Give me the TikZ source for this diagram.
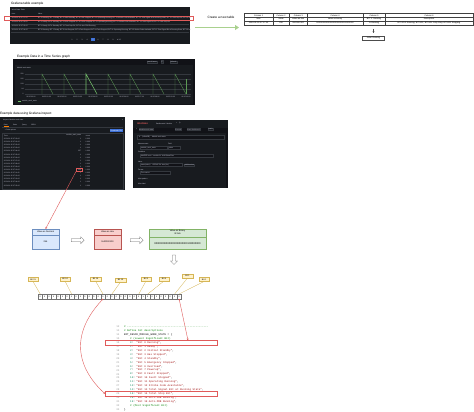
\documentclass[tikz,border=0pt]{standalone}
\usepackage{fontspec}
\setmainfont{Liberation Sans}
\setmonofont{Liberation Mono}
\usetikzlibrary{shapes.arrows,arrows.meta,calc}
\newcommand{\myfs}[1]{\fontsize{#1}{#1}\selectfont}
\newcommand{\cstr}[1]{\textcolor{codestr}{#1}}
\newcommand{\cnum}[1]{\textcolor{codenum}{#1}}
\newcommand{\ccom}[1]{\textcolor{codegreen}{#1}}
\definecolor{dkbg}{HTML}{181B1F}
\definecolor{dkpanel}{HTML}{111217}
\definecolor{scrtxt}{HTML}{CCCCDC}
\definecolor{scrline}{HTML}{34383E}
\definecolor{gfgreen}{HTML}{73BF69}
\definecolor{gfblue}{HTML}{3D71D9}
\definecolor{rd}{HTML}{E05A5A}
\definecolor{blfill}{HTML}{DAE8FC}\definecolor{bldraw}{HTML}{6C8EBF}
\definecolor{rdfill}{HTML}{F8CECC}\definecolor{rddraw}{HTML}{B85450}
\definecolor{grfill}{HTML}{D5E8D4}\definecolor{grdraw}{HTML}{82B366}
\definecolor{ylfill}{HTML}{FFF2CC}\definecolor{yldraw}{HTML}{D6B656}
\definecolor{arrgreen}{HTML}{A9D18E}
\definecolor{codegreen}{HTML}{008000}
\definecolor{codestr}{HTML}{A31515}
\definecolor{codenum}{HTML}{098658}
\definecolor{lnum}{HTML}{9A9A9A}
\tikzset{
  every node/.style={inner sep=0pt, outer sep=0pt},
  ttl/.style={font=\myfs{3.2}, anchor=west},
  scr/.style={font=\myfs{1.7}, text=scrtxt, anchor=west},
  scrr/.style={scr, anchor=east},
  scrc/.style={scr, anchor=center},
  tcell/.style={draw=black!75, line width=0.25pt, font=\myfs{2.1}, minimum height=3.8pt, anchor=north west},
  fbox/.style={draw=scrline, fill=dkpanel, line width=0.25pt},
  vbox/.style={line width=0.35pt, anchor=north west},
  btxt/.style={font=\myfs{2.2}},
  hollow/.style={single arrow, draw=black!60, fill=white, line width=0.3pt, inner sep=1.3pt, single arrow head extend=2pt, minimum height=13pt},
  bitlbl/.style={draw=yldraw, fill=ylfill, line width=0.3pt, font=\myfs{2.1}, minimum width=10.5pt, minimum height=4pt},
  bitcell/.style={draw=black!55, fill=white, line width=0.25pt, font=\myfs{2}, minimum width=4.48pt, minimum height=5pt},
  bitline/.style={draw=yldraw, line width=0.3pt},
  redln/.style={draw=rd, line width=0.4pt},
  code/.style={font=\ttfamily\myfs{2.6}, anchor=west},
  lno/.style={font=\ttfamily\myfs{2.6}, text=lnum, anchor=east},
  hlbox/.style={draw=rd, line width=0.35pt, minimum width=112pt, minimum height=4.6pt},
}
\begin{document}
\begin{tikzpicture}[x=1pt,y=-1pt]
\useasboundingbox[fill=white] (0,0) rectangle (474,412);

% ---------------- titles
\node[ttl] (t1) at (11,3.3) {Grafana table example};
\node[ttl] (t2) at (17,56.5) {Example Data in a Time Series graph};
\node[ttl] (t3) at (0,113.8) {Example data using Grafana inspect};

% ---------------- screenshot 1: grafana table
\begin{scope}
\clip (10,7) rectangle (190,44);
\fill[dkbg] (10,7) rectangle (190,44);
\node[scr] (s1title) at (12,10) {Work State Table};
\node[scr] (s1h1) at (12,14) {time};
\node[scr] (s1h2) at (38,14) {Value};
\foreach \yy in {16,20,24,28,32} \draw[scrline, line width=0.2pt] (11,\yy) -- (189,\yy);
\node[scr] (s1r1a) at (12,18.1) {2024-01-15 07:17:00};
\node[scr] (s1r1b) at (38,18.1) {BIT 0 Running, BIT 1 Ready, BIT 2 Initial Standby, BIT 8 Fault Stopped, BIT 11 Operating Running, BIT 12 Strobe Code Available, BIT 13 Total Signal Bit at Running State, BIT 16 Total Stop Bit, BIT 18 Anti-PDB};
\node[scr] (s1r2a) at (12,22) {2024-01-15 07:16:00};
\node[scr] (s1r2b) at (38,22) {BIT 1 Ready, BIT 4 Standby, BIT 8 Fault Stopped, BIT 10 Fault Stopped, BIT 11 Operating Running, BIT 12 Strobe Code Available, BIT 13 Total Signal Bit, BIT 16 Total Stop Bit};
\node[scr] (s1r3a) at (12,26) {2024-01-15 07:15:00};
\node[scr] (s1r3b) at (38,26) {BIT 1 Ready, BIT 4 Standby, BIT 16 Total Stop Bit, BIT 18 Anti-PDB Running};
\node[scr] (s1r4a) at (12,30) {2024-01-15 07:14:00};
\node[scr] (s1r4b) at (38,30) {BIT 0 Running, BIT 1 Ready, BIT 3 Has Stopped, BIT 8 Fault Stopped, BIT 10 Fault Stopped, BIT 11 Operating Running, BIT 12 Strobe Code Available, BIT 13 Total Signal Bit at Running State, BIT 19 Anti-PDB Running};
\fill[gfblue] (91.3,38) rectangle (94.7,41);
\foreach \k/\xx in {1/72,2/77,3/82,4/87,5/93,6/98,7/103,8/108,9/113} \node[scrc] (pg\k) at (\xx,39.5) {\k};
\node[scr] (pgof) at (117,39.5) {of 12};
\end{scope}
\draw[rd, line width=0.35pt] (4,16.3) rectangle (193,19.9);

% ---------------- green arrow and new table
\coordinate (ga1) at (195,27.5);
\coordinate (ga2) at (239,27.5);
\draw[arrgreen, line width=1.6pt, -{Triangle[length=4pt,width=5pt]}] (ga1) -- (ga2);
\node[font=\myfs{3.2}] (ganl) at (221,17) {Create a new table};

\foreach \i/\xx/\w in {1/244.3/28.7, 2/273/16.3, 3/289.3/18, 4/307.3/55.7, 5/363/22, 6/385/88}
  \node[tcell, minimum width=\w pt] (h\i) at (\xx,13.5) {Column \i};
\node[tcell, minimum width=28.7pt] (r21) at (244.3,17.3) {time};
\node[tcell, minimum width=16.3pt] (r22) at (273,17.3) {value};
\node[tcell, minimum width=18pt] (r23) at (289.3,17.3) {value as hex};
\node[tcell, minimum width=55.7pt] (r24) at (307.3,17.3) {value as binary};
\node[tcell, minimum width=22pt] (r25) at (363,17.3) {BIT 2: Running};
\node[tcell, minimum width=88pt] (r26) at (385,17.3) {Description};
\node[tcell, minimum width=28.7pt] (r31) at (244.3,21.1) {2024-01-15 07:17:00};
\node[tcell, minimum width=16.3pt] (r32) at (273,21.1) {256};
\node[tcell, minimum width=18pt] (r33) at (289.3,21.1) {0x00000100};
\node[tcell, minimum width=55.7pt] (r34) at (307.3,21.1) {00000000000000000000000100000000};
\node[tcell, minimum width=22pt] (r35) at (363,21.1) {1=Running};
\node[tcell, minimum width=88pt] (r36) at (385,21.1) {BIT 0/1/2 Running, BIT 8/11, BIT 8/11 Fully Stop, BIT 8/11 Stopping};
\coordinate (ir1) at (373.5,28.8);
\coordinate (ir2) at (373.5,33);
\draw[black!70, line width=0.3pt, -{Stealth[length=1.6pt,width=2pt]}] (ir1) -- (ir2);
\node[draw=black!70, line width=0.3pt, font=\myfs{2.1}, minimum width=22pt, minimum height=4.2pt] (initrun) at (373.5,37.8) {Initial Running};

% ---------------- screenshot 2: time series
\fill[dkpanel] (13,59) rectangle (195,105);
\node[scr, draw=scrline, fill=dkbg, inner sep=0.4pt] (tb1) at (147,61.8) {Last 6 hours};
\node[scr, draw=scrline, fill=dkbg, inner sep=0.4pt] (tb2) at (161,61.8) {Q};
\node[scr, draw=scrline, fill=dkbg, inner sep=0.4pt] (tb3) at (170,61.8) {Refresh};
\fill[dkbg] (15,65) rectangle (193,104);
\node[scr] (gtitle) at (17,67.5) {Module work state};
\foreach \yy/\lab in {74/256,79/192,84/128,89/64,94/0} {
  \draw[scrline, line width=0.2pt] (25,\yy) -- (191,\yy);
  \node[scrr] (yl\lab) at (23.5,\yy) {\lab};
}
\foreach \k/\lab in {0/00:00,1/01:00,2/02:00,3/03:00,4/04:00,5/05:00,6/06:00,7/07:00,8/08:00,9/09:00,10/10:00}
  \node[scrc] (xl\k) at ({31+15.5*\k},97.3) {01/15 \lab};
\draw[gfgreen, line width=0.4pt] (18,101) -- (21,101);
\node[scr] (legend) at (22,101) {module\_work\_state};
\foreach \xx in {42,64,108,130,153,175}
  \draw[gfgreen!80!black, line width=0.35pt] (\xx,94) -- (\xx,74) -- ({\xx+11},94);
\draw[gfgreen, line width=0.55pt] (86,94) -- (86,74) -- (97,94);
\draw[gfgreen!80!black, line width=0.35pt] (186,94) -- (186,79);

% ---------------- screenshot 3: inspect
\fill[dkbg] (0,117) rectangle (125,190);
\node[scr] (insttl) at (3,120.5) {Inspect: Module work state};
\node[scrr] (insx) at (123,120.5) {x};
\node[scr] (tab1) at (4,125) {Data};
\node[scr] (tab2) at (13,125) {Stats};
\node[scr] (tab3) at (22,125) {Query};
\node[scr] (tab4) at (31,125) {JSON};
\draw[orange, line width=0.4pt] (4,126.6) -- (9,126.6);
\draw[scrline, line width=0.25pt] (2,127) -- (123,127);
\node[scr] (dopt) at (5,130.5) {> Data options};
\node[scr, fill=gfblue, inner sep=0.6pt, text=white] (dlcsv) at (110,130.5) {Download CSV};
\draw[scrline, line width=0.25pt] (2,133) rectangle (123,189);
\node[scr] (ih1) at (4,135.5) {Time};
\node[scrr] (ih2) at (81,135.5) {module\_work\_state};
\node[scrr] (ih3) at (90,135.5) {count};
\foreach \k/\v/\c in {0/1/0.000,1/1/0.000,2/1/0.000,3/1/0.000,4/257/1.000,5/1/0.000,6/1/0.000,7/1/0.000,8/1/0.000,9/0/0.000,10/256/1.000,11/1/0.000,12/1/0.000,13/1/0.000,14/1/0.000,15/1/0.000} {
  \node[scr] (it\k) at (4,{139+3.1*\k}) {2024-01-15 07:\ifnum\k<10 0\fi\k:00};
  \node[scrr] (iv\k) at (81,{139+3.1*\k}) {\v};
  \node[scrr] (ic\k) at (90,{139+3.1*\k}) {\c};
}
\node[draw=rd, line width=0.35pt, minimum width=6pt, minimum height=3pt] (insp) at (79,170) {};

% ---------------- screenshot 4: query editor
\fill[dkpanel] (133,120) rectangle (228,188);
\fill[dkbg] (133,120) rectangle (228,127.5);
\node[scr, text=rd, font=\myfs{2.2}\bfseries] (gflogo) at (137,123.5) {GRAFANA};
\node[scr] (qbread) at (156,123.5) {Dashboards / Module};
\node[scr] (qicons) at (176,123.5) {+ \quad Q};
\node[scr] (qback) at (136,129.5) {<};
\node[scr, draw=scrline, fill=dkbg, inner sep=0.4pt] (qf0) at (139,129.5) {Module work state};
\node[scr, draw=scrline, inner sep=0.4pt] (qf1) at (175,129.5) {Discard};
\node[scr, draw=scrline, inner sep=0.4pt] (qf2) at (187,129.5) {Save dashboard};
\node[scr, draw=scrline, inner sep=0.4pt] (qf3) at (208,129.5) {Apply};
\fill[dkbg] (134,132.5) rectangle (226,188);
\draw[fbox] (137,135.5) rectangle (224,139);
\node[scr] (qA) at (139,137.2) {A \quad (InfluxDB) \quad Module work state};
\node[scr] (lmeas) at (138,143.5) {Measurement};
\node[scr] (lfield) at (168,143.5) {Field};
\draw[fbox] (140,146.5) rectangle (167,149.5);
\node[scr] (vmeas) at (141,148) {module\_work\_state};
\draw[fbox] (168,146.5) rectangle (180,149.5);
\node[scr] (vfield) at (169,148) {value};
\node[scr] (lcond) at (138,152.3) {Condition};
\draw[fbox] (140,154.5) rectangle (213,157.5);
\node[scr] (vcond) at (141,156) {WHERE host = 'module-01' AND \$timeFilter};
\node[scr] (lval) at (138,161.5) {Value};
\draw[fbox] (140,163.5) rectangle (182,166.5);
\node[scr] (vval) at (141,165) {mean(value) \quad GROUP BY time(1m)};
\node[scr, draw=scrline, inner sep=0.5pt] (qbtn) at (184,165) {Add function};
\node[scr] (lfmt) at (138,169.5) {Format};
\draw[fbox] (140,171.5) rectangle (170,174.5);
\node[scr] (vfmt) at (141,173) {Time series};
\node[scr] (lalias) at (138,179) {Alias pattern};
\node[scr] (lalab) at (138,184) {Alias label};

% ---------------- value boxes
\node[vbox, fill=blfill, draw=bldraw, minimum width=27pt, minimum height=20.3pt] (dec) at (32,229) {};
\draw[bldraw, line width=0.3pt] (32,235.3) -- (59,235.3);
\node[btxt] (dect) at (45.5,232.2) {Value as Decimal};
\node[btxt] (decv) at (45.5,242) {256};
\node[vbox, fill=rdfill, draw=rddraw, minimum width=27pt, minimum height=20.3pt] (hex) at (94,229) {};
\draw[rddraw, line width=0.3pt] (94,235.3) -- (121,235.3);
\node[btxt] (hext) at (107.5,232.2) {Value as Hex};
\node[btxt] (hexv) at (107.5,242) {0x00000100};
\node[vbox, fill=grfill, draw=grdraw, minimum width=57pt, minimum height=20.3pt] (bin) at (149,229) {};
\draw[grdraw, line width=0.3pt] (149,237.5) -- (206,237.5);
\node[btxt] (bint) at (177.5,231.2) {Value as Binary};
\node[btxt] (bint2) at (177.5,234.2) {32 bits};
\node[font=\myfs{2.6}] (binv) at (177.5,243.3) {00000000000000000000000100000000};
\node[hollow] (ha1) at (77,240.2) {};
\node[hollow] (ha2) at (136,240.2) {};
\node[hollow, rotate=-90, minimum height=9.5pt] (ha3) at (174,259) {};

\draw[redln, -{Stealth[length=2pt,width=1.8pt]}] (insp.south west) -- (dec.north);

% ---------------- bit row
\foreach \i in {0,...,31}
  \node[bitcell] (c\i) at ({40.24+4.48*\i},296.5) {\ifnum\i=23 1\else 0\fi};
\node[bitlbl] (b31) at (33,279.5) {Bit 31};
\node[bitlbl] (b24) at (65,279) {Bit 24};
\node[bitlbl] (b16) at (95.5,279) {Bit 16};
\node[bitlbl] (b15) at (120.5,280) {Bit 15};
\node[bitlbl] (b9) at (146,279) {Bit 9};
\node[bitlbl] (b8) at (164,279) {Bit 8};
\node[bitlbl] (b1) at (187.5,276) {Bit 1};
\node[bitlbl] (b0) at (204,279.5) {Bit 0};
\draw[bitline] (b31.south) -- (c0.north);
\draw[bitline] (b24.south) -- (c7.north);
\draw[bitline] (b16.south) -- (c14.north);
\draw[bitline] (b15.south) -- (c16.north);
\draw[bitline] (b9.south) -- (c22.north);
\draw[bitline] (b8.south) -- (c24.north);
\draw[bitline] (b1.south) -- (c30.north);
\draw[bitline] (b0.south) -- (c31.north);

% ---------------- code
\foreach \k in {12,...,33} \node[lno] (ln\k) at (119.5,{327+(\k-12)*3.93}) {\k};
\node[code] (k12) at (124,{327+0*3.93}) {\ccom{\# ----------------------------------------------------}};
\node[code] (k13) at (124,{327+1*3.93}) {\ccom{\# Define bit descriptions}};
\node[code] (k14) at (124,{327+2*3.93}) {BIT\_DESCR\_MODULE\_WORK\_STATE = \{};
\node[code] (k15) at (124,{327+3*3.93}) {~~~~\ccom{\# (Lowest Significant Bit)}};
\node[code] (k16) at (124,{327+4*3.93}) {~~~~\cnum{0}:~~\cstr{"Bit 0 Running"},};
\node[code] (k17) at (124,{327+5*3.93}) {~~~~\cnum{1}:~~\cstr{"Bit 1 Ready"},};
\node[code] (k18) at (124,{327+6*3.93}) {~~~~\cnum{2}:~~\cstr{"Bit 2 Initial Standby"},};
\node[code] (k19) at (124,{327+7*3.93}) {~~~~\cnum{3}:~~\cstr{"Bit 3 Has Stopped"},};
\node[code] (k20) at (124,{327+8*3.93}) {~~~~\cnum{4}:~~\cstr{"Bit 4 Standby"},};
\node[code] (k21) at (124,{327+9*3.93}) {~~~~\cnum{5}:~~\cstr{"Bit 5 Emergency Stopped"},};
\node[code] (k22) at (124,{327+10*3.93}) {~~~~\cnum{6}:~~\cstr{"Bit 6 Overload"},};
\node[code] (k23) at (124,{327+11*3.93}) {~~~~\cnum{7}:~~\cstr{"Bit 7 Powerup"},};
\node[code] (k24) at (124,{327+12*3.93}) {~~~~\cnum{8}:~~\cstr{"Bit 8 Fault Stopped"},};
\node[code] (k25) at (124,{327+13*3.93}) {~~~~\cnum{10}:~\cstr{"Bit 10 Fault Stopped"},};
\node[code] (k26) at (124,{327+14*3.93}) {~~~~\cnum{11}:~\cstr{"Bit 11 Operating Running"},};
\node[code] (k27) at (124,{327+15*3.93}) {~~~~\cnum{12}:~\cstr{"Bit 12 Strobe Code Available"},};
\node[code] (k28) at (124,{327+16*3.93}) {~~~~\cnum{13}:~\cstr{"Bit 13 Total Signal Bit at Running State"},};
\node[code] (k29) at (124,{327+17*3.93}) {~~~~\cnum{16}:~\cstr{"Bit 16 Total Stop Bit"},};
\node[code] (k30) at (124,{327+18*3.93}) {~~~~\cnum{18}:~\cstr{"Bit 18 Anti-PDB Running"},};
\node[code] (k31) at (124,{327+19*3.93}) {~~~~\cnum{19}:~\cstr{"Bit 19 Anti-PDB Running"},};
\node[code] (k32) at (124,{327+20*3.93}) {~~~~\ccom{\# (Most Significant Bit)}};
\node[code] (k33) at (124,{327+21*3.93}) {\}};
\node[hlbox] (hl16) at (161,{327+4*3.93}) {};
\node[hlbox] (hl29) at (161,{327+17*3.93}) {};

% ---------------- red connectors bits -> code
\draw[redln, {Circle[length=1.4pt]}-{Stealth[length=2pt,width=1.8pt]}] (c14.south) .. controls (60,345) and (90,380) .. (hl29.west);
\draw[redln, {Circle[length=1.4pt]}-{Stealth[length=2pt,width=1.8pt]}] (c31.south) -- ($(hl16.north west)+(83,0)$);
\end{tikzpicture}
\end{document}
